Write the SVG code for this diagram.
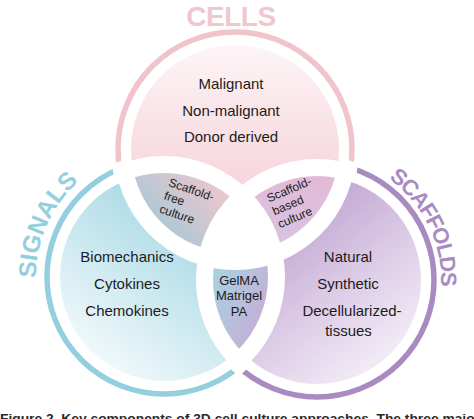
<svg xmlns="http://www.w3.org/2000/svg" width="474" height="419" viewBox="0 0 474 419">
<style>
  .lbl{font-family:"Liberation Sans",Arial,sans-serif;font-size:15px;fill:#1c1c1c;text-anchor:middle}
  .sm{font-family:"Liberation Sans",Arial,sans-serif;font-size:12px;fill:#1c1c1c}
  .gel{font-family:"Liberation Sans",Arial,sans-serif;font-size:13px;fill:#1c1c1c;text-anchor:middle}
  .title{font-family:"Liberation Sans",Arial,sans-serif;font-weight:bold}
  .ring{fill:none;stroke-width:5.5}
  .cap{font-family:"Liberation Sans",Arial,sans-serif;font-weight:bold;font-size:13px;fill:#2a2a2a}
</style>
<defs>
  <linearGradient id="gA" gradientUnits="userSpaceOnUse" x1="235" y1="48" x2="235" y2="250">
    <stop offset="0" stop-color="#fdf4f6"/><stop offset="0.5" stop-color="#f8dde2"/><stop offset="1" stop-color="#f3c9d0"/>
  </linearGradient>
  <linearGradient id="gB" gradientUnits="userSpaceOnUse" x1="95" y1="375" x2="230" y2="195">
    <stop offset="0" stop-color="#f6fbfc"/><stop offset="0.5" stop-color="#c6e6ee"/><stop offset="1" stop-color="#98d0de"/>
  </linearGradient>
  <linearGradient id="gC" gradientUnits="userSpaceOnUse" x1="255" y1="195" x2="395" y2="375">
    <stop offset="0" stop-color="#b596ca"/><stop offset="0.55" stop-color="#dccbe6"/><stop offset="1" stop-color="#f7f2f9"/>
  </linearGradient>
  <linearGradient id="gAB" gradientUnits="userSpaceOnUse" x1="225" y1="180" x2="160" y2="240">
    <stop offset="0" stop-color="#f3c6cd"/><stop offset="1" stop-color="#a6c8d6"/>
  </linearGradient>
  <linearGradient id="gAC" gradientUnits="userSpaceOnUse" x1="300" y1="175" x2="285" y2="248">
    <stop offset="0" stop-color="#e3bad6"/><stop offset="1" stop-color="#d6c4e2"/>
  </linearGradient>
  <linearGradient id="gBC" gradientUnits="userSpaceOnUse" x1="205" y1="270" x2="275" y2="300">
    <stop offset="0" stop-color="#a4d6e3"/><stop offset="1" stop-color="#c6aed6"/>
  </linearGradient>
  <clipPath id="cA"><circle cx="235" cy="149" r="104"/></clipPath>
  <clipPath id="cB"><circle cx="164" cy="277" r="104"/></clipPath>
  <mask id="nA" maskUnits="userSpaceOnUse" x="0" y="0" width="474" height="419"><rect width="474" height="419" fill="#fff"/><circle cx="235" cy="149" r="121" fill="#000"/></mask>
  <mask id="nB" maskUnits="userSpaceOnUse" x="0" y="0" width="474" height="419"><rect width="474" height="419" fill="#fff"/><circle cx="164" cy="277" r="121" fill="#000"/></mask>
  <mask id="nC" maskUnits="userSpaceOnUse" x="0" y="0" width="474" height="419"><rect width="474" height="419" fill="#fff"/><circle cx="317" cy="280" r="121" fill="#000"/></mask>
  <mask id="kA" maskUnits="userSpaceOnUse" x="0" y="0" width="474" height="419"><rect width="474" height="419" fill="#fff"/><circle cx="164" cy="277" r="124" fill="#000"/><circle cx="317" cy="280" r="124" fill="#000"/></mask>
  <mask id="kB" maskUnits="userSpaceOnUse" x="0" y="0" width="474" height="419"><rect width="474" height="419" fill="#fff"/><circle cx="235" cy="149" r="124" fill="#000"/><circle cx="317" cy="280" r="124" fill="#000"/></mask>
  <mask id="kC" maskUnits="userSpaceOnUse" x="0" y="0" width="474" height="419"><rect width="474" height="419" fill="#fff"/><circle cx="235" cy="149" r="124" fill="#000"/><circle cx="164" cy="277" r="124" fill="#000"/></mask>
  <path id="pS" d="M53.15,341 A128,128 0 0 1 141.77,150.94"/>
  <path id="pF" d="M338.53,157.88 A124,124 0 0 1 424.39,342"/>
</defs>
<rect width="474" height="419" fill="#fff"/>

<g id="cells">
  <circle class="ring" stroke="#f1c3cb" cx="235" cy="149" r="117" mask="url(#kA)"/>
  <g mask="url(#nB)"><circle cx="235" cy="149" r="104" fill="url(#gA)" mask="url(#nC)"/></g>
  <text class="title" x="231" y="26" font-size="28" letter-spacing="-0.5" fill="#f2c6ce" text-anchor="middle">CELLS</text>
  <text class="lbl" x="231" y="89">Malignant</text>
  <text class="lbl" x="231" y="115.5">Non-malignant</text>
  <text class="lbl" x="231" y="142">Donor derived</text>
</g>

<g id="signals">
  <circle class="ring" stroke="#93cfdf" cx="164" cy="277" r="117" mask="url(#kB)"/>
  <g mask="url(#nA)"><circle cx="164" cy="277" r="104" fill="url(#gB)" mask="url(#nC)"/></g>
  <text class="title" font-size="24.5" fill="#93cfdf" text-anchor="middle"><textPath href="#pS" startOffset="49%">SIGNALS</textPath></text>
  <text class="lbl" x="127" y="262">Biomechanics</text>
  <text class="lbl" x="127" y="289">Cytokines</text>
  <text class="lbl" x="127" y="316">Chemokines</text>
</g>

<g id="scaffolds">
  <circle class="ring" stroke="#a98bc2" cx="317" cy="280" r="117" mask="url(#kC)"/>
  <g mask="url(#nA)"><circle cx="317" cy="280" r="104" fill="url(#gC)" mask="url(#nB)"/></g>
  <text class="title" font-size="22" letter-spacing="-1.2" fill="#a98bc2" text-anchor="middle"><textPath href="#pF" startOffset="49%">SCAFFOLDS</textPath></text>
  <text class="lbl" x="348" y="262">Natural</text>
  <text class="lbl" x="348" y="289">Synthetic</text>
  <text class="lbl" x="352" y="316">Decellularized-</text>
  <text class="lbl" x="348.5" y="336">tissues</text>
</g>

<g id="scaffold-free">
  <g clip-path="url(#cA)"><circle cx="164" cy="277" r="104" fill="url(#gAB)" mask="url(#nC)"/></g>
  <g transform="translate(167.8,185.8) rotate(19)">
    <text class="sm" x="0" y="0">Scaffold-</text>
    <text class="sm" x="0" y="14">free</text>
    <text class="sm" x="0" y="28">culture</text>
  </g>
</g>

<g id="scaffold-based">
  <g clip-path="url(#cA)"><circle cx="317" cy="280" r="104" fill="url(#gAC)" mask="url(#nB)"/></g>
  <g transform="translate(269,202.5) rotate(-23)">
    <text class="sm" x="0" y="0">Scaffold-</text>
    <text class="sm" x="0" y="14">based</text>
    <text class="sm" x="0" y="28">culture</text>
  </g>
</g>

<g id="hydrogels">
  <g clip-path="url(#cB)"><circle cx="317" cy="280" r="104" fill="url(#gBC)" mask="url(#nA)"/></g>
  <text class="gel" x="239" y="284.5">GelMA</text>
  <text class="gel" x="239" y="300">Matrigel</text>
  <text class="gel" x="239" y="315.5">PA</text>
</g>

<g id="connectors"/>

<text class="cap" x="0" y="422.5" textLength="480" lengthAdjust="spacingAndGlyphs">Figure 2. Key components of 3D cell culture approaches. The three major</text>
</svg>
